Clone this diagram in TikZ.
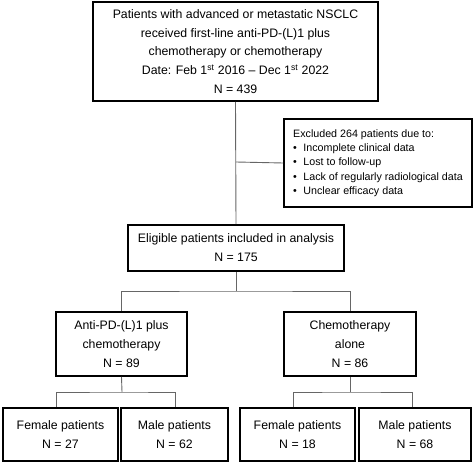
\documentclass[tikz,border=0pt]{standalone}
\usepackage{fontspec}
\setmainfont{Liberation Sans}
\begin{document}
\begin{tikzpicture}[x=1pt,y=-1pt,
  box/.style={draw=black,line width=1.6pt,inner sep=0pt,align=center,
    font=\fontsize{12.3}{18.8}\selectfont},
  conn/.style={draw=black!60,line width=0.9pt}]
\useasboundingbox (0,0) rectangle (474,465);
\node[box,minimum width=285,minimum height=99] (top) at (235.5,51.5)
  {Patients with advanced or metastatic NSCLC\\received first-line anti-PD-(L)1 plus\\chemotherapy or chemotherapy\\Date: Feb 1\textsuperscript{st} 2016 -- Dec 1\textsuperscript{st} 2022\\N = 439};
\node[box,minimum width=188,minimum height=88,align=left,
  font=\fontsize{10.7}{14.3}\selectfont] (excl) at (378,163)
  {Excluded 264 patients due to:\\
   \textbullet\hspace{6.5pt}Incomplete clinical data\\
   \textbullet\hspace{6.5pt}Lost to follow-up\\
   \textbullet\hspace{6.5pt}Lack of regularly radiological data\\
   \textbullet\hspace{6.5pt}Unclear efficacy data};
\node[box,minimum width=216,minimum height=46] (elig) at (236,248)
  {Eligible patients included in analysis\\N = 175};
\node[box,minimum width=131,minimum height=64] (anti) at (121.5,344)
  {Anti-PD-(L)1 plus\\chemotherapy\\N = 89};
\node[box,minimum width=132,minimum height=64] (chemo) at (350,344)
  {Chemotherapy\\alone\\N = 86};
\node[box,minimum width=115,minimum height=53] (f1) at (60.5,434.5)
  {Female patients\\N = 27};
\node[box,minimum width=107,minimum height=53] (m1) at (174.5,434.5)
  {Male patients\\N = 62};
\node[box,minimum width=115,minimum height=53] (f2) at (297.5,434.5)
  {Female patients\\N = 18};
\node[box,minimum width=112,minimum height=53] (m2) at (415,434.5)
  {Male patients\\N = 68};
% connectors
\coordinate (j0) at (236,162);
\coordinate (j1) at (236,291);
\coordinate (j2) at (122,392);
\coordinate (j3) at (350,392);
\coordinate (a1) at (56,0);
\coordinate (a2) at (175,0);
\coordinate (b1) at (293,0);
\coordinate (b2) at (412,0);
\draw[conn] (top.south) -- (elig.north);
\draw[conn] (j0) -- (excl.west);
\draw[conn] (elig.south) -- (j1);
\draw[conn] (anti.north) |- (j1) -| (chemo.north);
\draw[conn] (anti.south) -- (j2);
\draw[conn] (f1.north -| a1) |- (j2) -| (m1.north -| a2);
\draw[conn] (chemo.south) -- (j3);
\draw[conn] (f2.north -| b1) |- (j3) -| (m2.north -| b2);
\end{tikzpicture}
\end{document}
